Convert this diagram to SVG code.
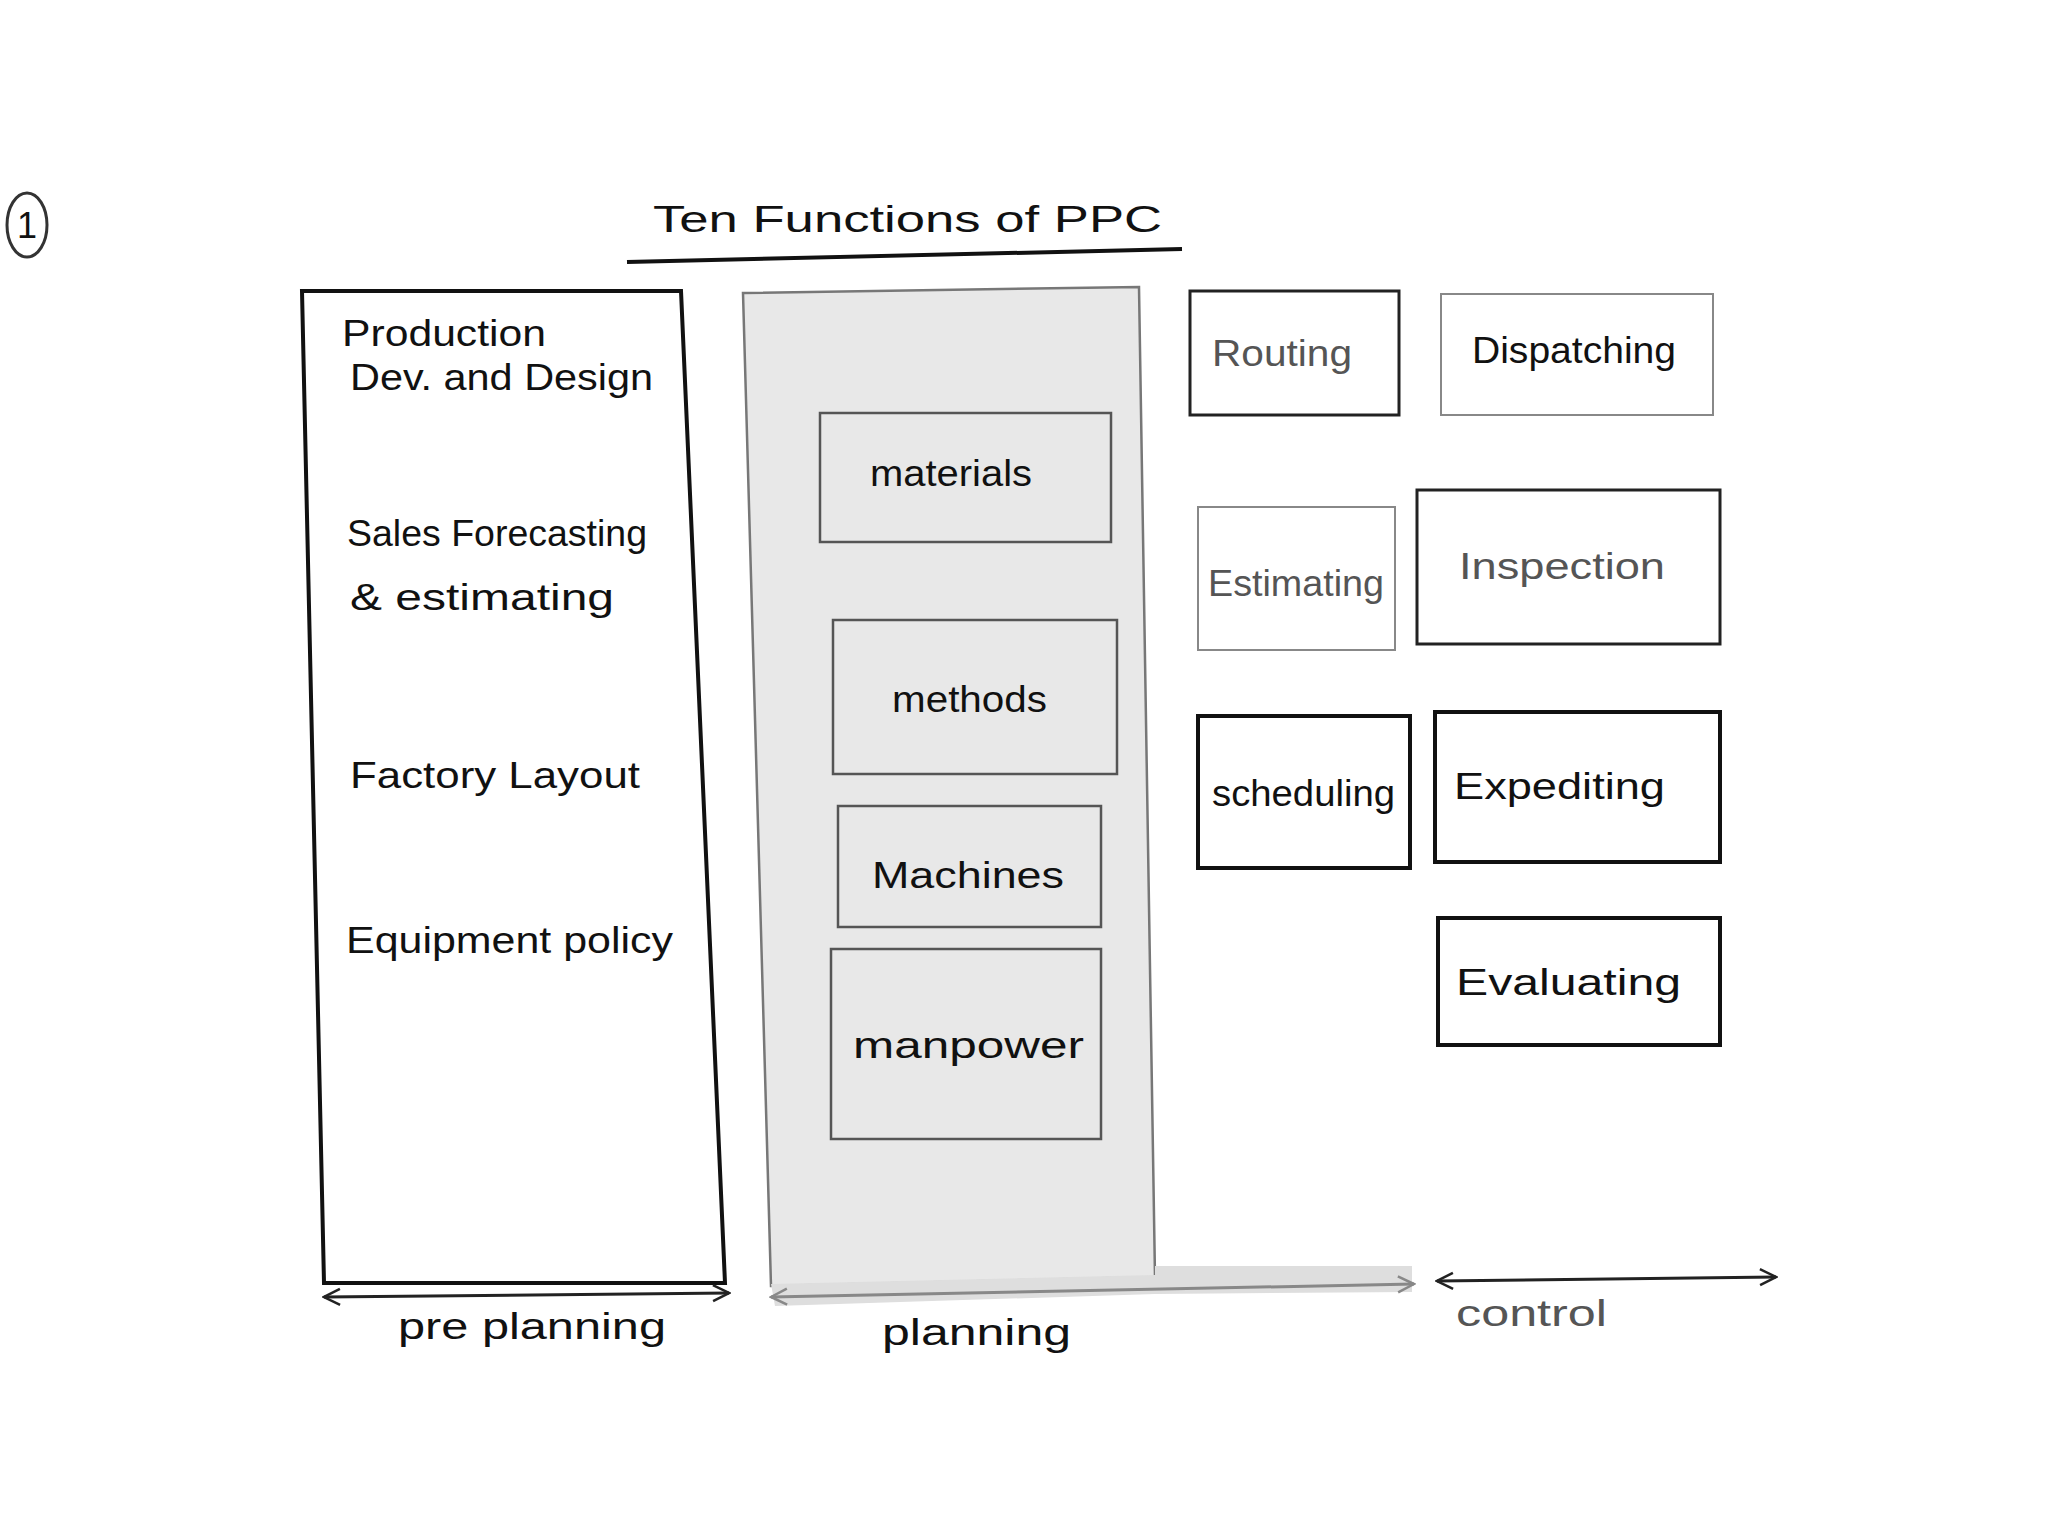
<svg xmlns="http://www.w3.org/2000/svg" width="2048" height="1536" viewBox="0 0 2048 1536">
<defs>
<style>
.t{font-family:"Liberation Sans","DejaVu Sans",sans-serif;font-size:36px;fill:#111}
.g{fill:#555}
.thick{fill:none;stroke:#111;stroke-width:4}
.med{fill:none;stroke:#222;stroke-width:3}
.thin{fill:none;stroke:#888;stroke-width:2}
.inner{fill:none;stroke:#555;stroke-width:2.5}
.arr{fill:none;stroke:#222;stroke-width:3}
</style>
<marker id="ah" viewBox="0 0 20 20" refX="18" refY="10" markerWidth="20" markerHeight="20" markerUnits="userSpaceOnUse" orient="auto-start-reverse">
<path d="M2,2 L18,10 L2,18" fill="none" stroke="#222" stroke-width="2.5"/>
</marker>
<marker id="ahg" viewBox="0 0 20 20" refX="18" refY="10" markerWidth="20" markerHeight="20" markerUnits="userSpaceOnUse" orient="auto-start-reverse">
<path d="M2,2 L18,10 L2,18" fill="none" stroke="#888" stroke-width="2.5"/>
</marker>
</defs>
<rect width="2048" height="1536" fill="#ffffff"/>

<g id="page-number">
<ellipse cx="27" cy="225" rx="20" ry="32" fill="none" stroke="#333" stroke-width="3"/>
<text class="t" x="27" y="238" text-anchor="middle" font-size="34">1</text>
</g>

<g id="title">
<text class="t" x="653" y="232" font-size="44" textLength="509" lengthAdjust="spacingAndGlyphs">Ten Functions of PPC</text>
<path d="M627,262 L1182,249" stroke="#111" stroke-width="4" fill="none"/>
</g>

<g id="pre-planning">
<polygon class="thick" points="302,291 681,291 725,1283 324,1283"/>
<text class="t" x="342" y="346" font-size="30" textLength="204" lengthAdjust="spacingAndGlyphs">Production</text>
<text class="t" x="350" y="390" font-size="32" textLength="303" lengthAdjust="spacingAndGlyphs">Dev. and Design</text>
<text class="t" x="347" y="546" font-size="34" textLength="300" lengthAdjust="spacingAndGlyphs">Sales Forecasting</text>
<text class="t" x="350" y="610" textLength="264" lengthAdjust="spacingAndGlyphs">&amp; estimating</text>
<text class="t" x="350" y="788" textLength="290" lengthAdjust="spacingAndGlyphs">Factory Layout</text>
<text class="t" x="346" y="953" textLength="327" lengthAdjust="spacingAndGlyphs">Equipment policy</text>
</g>

<g id="planning">
<polygon points="743,293 1139,287 1155,1277 771,1286" fill="#e8e8e8" stroke="#777" stroke-width="2.5"/>
<polygon points="771,1284 1155,1275 1155,1266 1412,1266 1412,1292 1155,1294 775,1306" fill="#dedede" stroke="none"/>
</g>

<g id="materials">
<rect class="inner" x="820" y="413" width="291" height="129"/>
<text class="t" x="870" y="486" textLength="162" lengthAdjust="spacingAndGlyphs">materials</text>
</g>
<g id="methods">
<rect class="inner" x="833" y="620" width="284" height="154"/>
<text class="t" x="892" y="712" textLength="155" lengthAdjust="spacingAndGlyphs">methods</text>
</g>
<g id="machines">
<rect class="inner" x="838" y="806" width="263" height="121"/>
<text class="t" x="872" y="888" textLength="192" lengthAdjust="spacingAndGlyphs">Machines</text>
</g>
<g id="manpower">
<rect class="inner" x="831" y="949" width="270" height="190"/>
<text class="t" x="853" y="1058" textLength="231" lengthAdjust="spacingAndGlyphs">manpower</text>
</g>

<g id="routing">
<rect class="med" x="1190" y="291" width="209" height="124"/>
<text class="t g" x="1212" y="366" textLength="140" lengthAdjust="spacingAndGlyphs">Routing</text>
</g>
<g id="estimating">
<rect class="thin" x="1198" y="507" width="197" height="143"/>
<text class="t g" x="1208" y="596" textLength="176" lengthAdjust="spacingAndGlyphs">Estimating</text>
</g>
<g id="scheduling">
<rect class="thick" x="1198" y="716" width="212" height="152"/>
<text class="t" x="1212" y="806" textLength="183" lengthAdjust="spacingAndGlyphs">scheduling</text>
</g>
<g id="dispatching">
<rect class="thin" x="1441" y="294" width="272" height="121"/>
<text class="t" x="1472" y="363" textLength="204" lengthAdjust="spacingAndGlyphs" fill="#333">Dispatching</text>
</g>
<g id="inspection">
<rect class="med" x="1417" y="490" width="303" height="154"/>
<text class="t g" x="1459" y="579" textLength="206" lengthAdjust="spacingAndGlyphs">Inspection</text>
</g>
<g id="expediting">
<rect class="thick" x="1435" y="712" width="285" height="150"/>
<text class="t" x="1454" y="799" textLength="211" lengthAdjust="spacingAndGlyphs">Expediting</text>
</g>
<g id="evaluating">
<rect class="thick" x="1438" y="918" width="282" height="127"/>
<text class="t" x="1456" y="995" textLength="225" lengthAdjust="spacingAndGlyphs">Evaluating</text>
</g>

<g id="connectors">
<path class="arr" d="M324,1297 L729,1293" marker-start="url(#ah)" marker-end="url(#ah)"/>
<path d="M771,1297 L1414,1284" fill="none" stroke="#888" stroke-width="3" marker-start="url(#ahg)" marker-end="url(#ahg)"/>
<path class="arr" d="M1437,1281 L1776,1277" marker-start="url(#ah)" marker-end="url(#ah)"/>
</g>

<g id="labels">
<text class="t" x="398" y="1339" textLength="268" lengthAdjust="spacingAndGlyphs">pre planning</text>
<text class="t" x="882" y="1345" textLength="189" lengthAdjust="spacingAndGlyphs">planning</text>
<text class="t g" x="1456" y="1326" textLength="151" lengthAdjust="spacingAndGlyphs">control</text>
</g>
</svg>
